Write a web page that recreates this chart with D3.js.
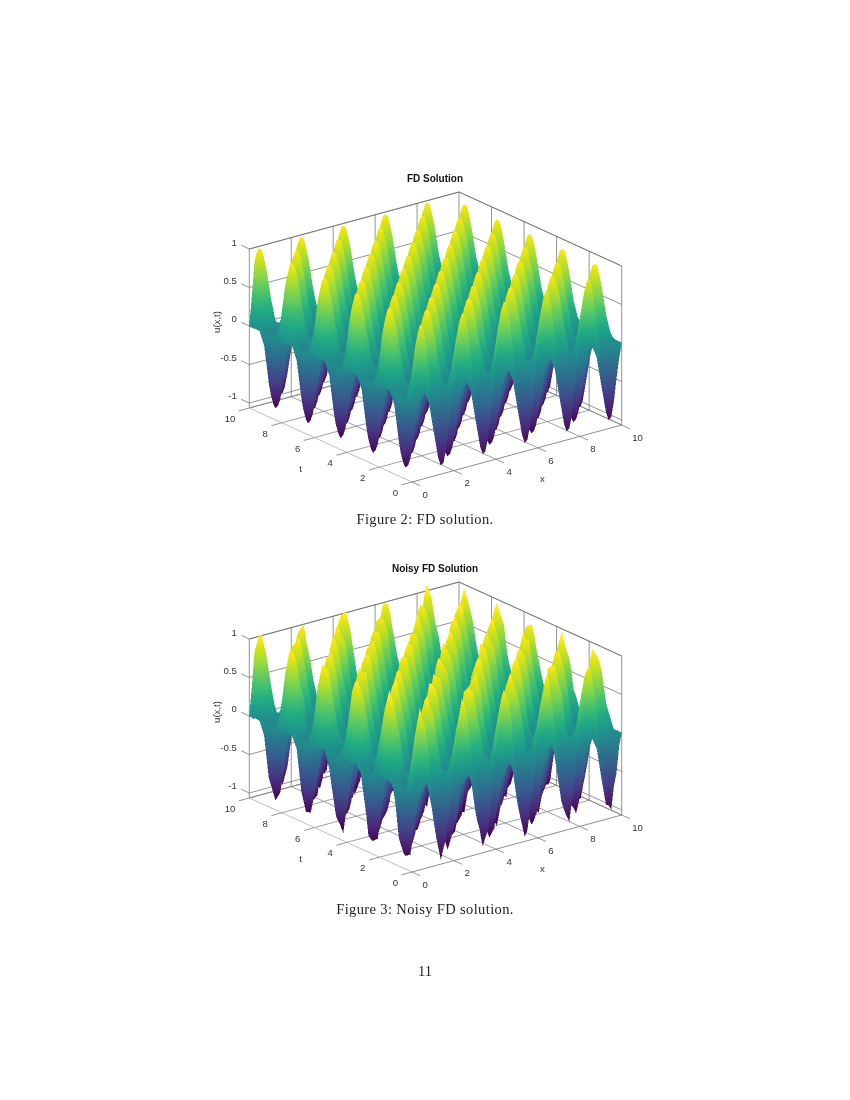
<!DOCTYPE html>
<html><head><meta charset="utf-8">
<script src="https://cdn.jsdelivr.net/npm/d3@7"></script>
<style>html,body{margin:0;padding:0;background:#fff}svg{display:block;filter:blur(0.4px)}</style>
</head><body><div id="c"></div>
<script>
// ---- values ----
const titles = ["FD Solution", "Noisy FD Solution"];
const captions = ["Figure 2: FD solution.", "Figure 3: Noisy FD solution."];
const pageNumber = "11";
const xTicks = [0,2,4,6,8,10];
const tTicks = [0,2,4,6,8,10];
const zTicks = [-1,-0.5,0,0.5,1];
const zTickLabels = ["-1","-0.5","0","0.5","1"];
const gridX = [0,.125,.25,.375,.5,.625,.75,.875,1,1.125,1.25,1.375,1.5,1.625,1.75,1.875,2,2.125,2.25,2.375,2.5,2.625,2.75,2.875,3,3.125,3.25,3.375,3.5,3.625,3.75,3.875,4,4.125,4.25,4.375,4.5,4.625,4.75,4.875,5,5.125,5.25,5.375,5.5,5.625,5.75,5.875,6,6.125,6.25,6.375,6.5,6.625,6.75,6.875,7,7.125,7.25,7.375,7.5,7.625,7.75,7.875,8,8.125,8.25,8.375,8.5,8.625,8.75,8.875,9,9.125,9.25,9.375,9.5,9.625,9.75,9.875,10];
const gridT = gridX.slice();
// spatial profile of the wave along x
const profileX = [0,.40,.85,
 .99,.96,.78,.48,.11,-.28,-.63,-.88,-.99,-.96,-.78,-.48,-.11,.28,.63,.88,
 .99,.96,.78,.48,.11,-.28,-.63,-.88,-.99,-.96,-.78,-.48,-.11,.28,.63,.88,
 .99,.96,.78,.48,.11,-.28,-.63,-.88,-.99,-.96,-.78,-.48,-.11,.28,.63,.88,
 .99,.96,.78,.48,.11,-.28,-.63,-.88,-.99,-.96,-.78,-.48,-.11,.28,.63,.88,
 .99,.96,.78,.48,.11,-.28,-.63,-.88,-.99,-.96,-.76,-.46,-.20,0];
// temporal profile of the wave along t
const profileT = [.96,.79,.48,.08,-.33,-.68,-.91,-1,-.96,-.79,-.48,-.08,.33,.68,.91,1,.96,.79,.48,.08,-.33,-.68,-.91,-1,-.96,-.79,-.48,-.08,.33,.68,.91,1,.96,.79,.48,.08,-.33,-.68,-.91,-1,-.96,-.79,-.48,-.08,.33,.68,.91,1,.96,.79,.48,.08,-.33,-.68,-.91,-1,-.96,-.79,-.48,-.08,.33,.68,.91,1,.96,.79,.48,.08,-.33,-.68,-.91,-1,-.96,-.79,-.48,-.08,.33,.68,.91,1,.96];
// roughness seen on the noisy surface, estimated per x row and per t row
const roughX = [0,.03,-.02,.04,-.03,.01,.05,-.04,.02,-.01,.03,-.05,.04,.00,-.03,.02,.05,-.02,-.04,.03,.01,-.05,.04,-.01,.02,-.03,.05,-.04,.00,.03,-.02,.04,-.05,.01,.03,-.03,.02,.05,-.01,-.04,.03,-.02,.04,.00,-.05,.02,.03,-.04,.05,-.01,-.03,.04,.01,-.02,-.05,.03,.02,-.04,.05,.00,-.03,.04,-.01,.02,-.05,.03,-.02,.04,.01,-.04,.05,-.03,.00,.02,-.01,.04,-.05,.03,-.02,.01,0];
const roughT = [.02,-.03,.04,.00,-.05,.03,.01,-.02,.05,-.04,.02,.03,-.01,-.05,.04,.01,-.03,.02,.05,-.02,-.04,.03,.00,.04,-.05,.01,.03,-.03,.02,-.01,.05,-.04,.03,.00,-.02,.04,-.05,.02,.01,-.03,.05,-.01,-.04,.03,.02,-.05,.04,.00,-.02,.03,.05,-.04,.01,-.03,.02,.04,-.05,.00,.03,-.02,.05,-.01,-.04,.02,.03,-.05,.04,.01,-.03,.00,.05,-.02,.03,-.04,.01,.02,-.05,.04,-.01,.03,-.02];
const roughTile = [
 [.03,-.04,.01,.05,-.02,-.05,.04,.00,-.03,.02,.05],
 [-.05,.02,.04,-.01,.03,.01,-.04,.05,-.02,-.03,.00],
 [.01,.05,-.03,.02,-.05,.04,.00,-.02,.03,-.04,.05],
 [.04,-.02,.00,-.05,.05,-.03,.02,.01,-.04,.03,-.01],
 [-.03,.00,.05,.03,-.04,.02,-.05,.04,.01,-.01,.02],
 [.02,.04,-.05,-.02,.01,.05,-.03,-.04,.03,.00,-.01],
 [-.01,-.03,.02,.04,.00,-.04,.05,.03,-.05,.01,.03]
];
const tableFD = gridX.map((_,i)=>gridT.map((_,j)=>profileX[i]*profileT[j]));
const tableNoisy = gridX.map((_,i)=>gridT.map((_,j)=>{
  const edge = (i===0||i===gridX.length-1) ? 0.15 : 1;
  return tableFD[i][j] + edge*(0.6*roughX[i]+0.6*roughT[j]+1.2*roughTile[i%7][j%11]);
}));

// ---- projection, built from linear scales ----
const W=850,H=1100;
const svg=d3.select("#c").append("svg").attr("width",W).attr("height",H).attr("viewBox",[0,0,W,H]);
const xH=d3.scaleLinear([0,10],[412,621.7]), xV=d3.scaleLinear([0,10],[482,425]);
const tH=d3.scaleLinear([0,10],[0,-162.7]), tV=d3.scaleLinear([0,10],[0,-74]);
const zV=d3.scaleLinear([-1.065,1],[0,-159]);
const color=d3.scaleSequential(d3.interpolateViridis).domain([-1,1]).clamp(true);
const lutSize=512;
const lut=d3.range(lutSize).map(k=>{const c=d3.rgb(color(-1+2*k/(lutSize-1)));return [c.r,c.g,c.b];});
const P=(x,t,z)=>[xH(x)+tH(t), xV(x)+tV(t)+zV(z)];
const line=d3.line();
const ZB=-1.065, ZT=1, sans="'Liberation Sans',Arial,sans-serif";

// paints the surface far to near, each pixel coloured by its own height
function paintSurface(table){
  const SS=2, bx=235, by=180, bw=400, bh=310;
  const cv=document.createElement("canvas"); cv.width=bw*SS; cv.height=bh*SS;
  const ctx=cv.getContext("2d"), img=ctx.createImageData(cv.width,cv.height), buf=img.data;
  const tri=(a,b,c)=>{
    const ax=(a.p[0]-bx)*SS, ay=(a.p[1]-by)*SS, bxx=(b.p[0]-bx)*SS, byy=(b.p[1]-by)*SS, cx=(c.p[0]-bx)*SS, cy=(c.p[1]-by)*SS;
    const den=(byy-cy)*(ax-cx)+(cx-bxx)*(ay-cy);
    if(Math.abs(den)<1e-9) return;
    const x0=Math.max(0,Math.floor(Math.min(ax,bxx,cx))), x1=Math.min(cv.width-1,Math.ceil(Math.max(ax,bxx,cx)));
    const y0=Math.max(0,Math.floor(Math.min(ay,byy,cy))), y1=Math.min(cv.height-1,Math.ceil(Math.max(ay,byy,cy)));
    for(let y=y0;y<=y1;y++)for(let x=x0;x<=x1;x++){
      const px=x+.5, py=y+.5;
      const w0=((byy-cy)*(px-cx)+(cx-bxx)*(py-cy))/den, w1=((cy-ay)*(px-cx)+(ax-cx)*(py-cy))/den, w2=1-w0-w1;
      if(w0<-.02||w1<-.02||w2<-.02) continue;
      const z=w0*a.z+w1*b.z+w2*c.z;
      const k=Math.max(0,Math.min(lutSize-1,Math.round((z+1)/2*(lutSize-1))));
      const o=(y*cv.width+x)*4, col=lut[k];
      buf[o]=col[0];buf[o+1]=col[1];buf[o+2]=col[2];buf[o+3]=255;
    }
  };
  const V=(a,b)=>({p:P(gridX[a],gridT[b],table[a][b]),z:table[a][b]});
  for(let i=gridX.length-2;i>=0;i--)for(let j=gridT.length-2;j>=0;j--){
    const q00=V(i,j),q10=V(i+1,j),q11=V(i+1,j+1),q01=V(i,j+1);
    tri(q11,q10,q01); tri(q10,q00,q01);
  }
  ctx.putImageData(img,0,0);
  return {href:cv.toDataURL("image/png"),x:bx,y:by,w:bw,h:bh};
}

function panel(idx,dy,table){
  const g=svg.append("g").attr("transform",`translate(0,${dy})`);
  const seg=(cls,data,stroke,width)=>g.append("g").attr("class",cls).attr("fill","none").attr("stroke",stroke).attr("stroke-width",width)
    .selectAll("path").data(data).join("path").attr("d",d=>line(d));
  // walls
  const wall=[];
  xTicks.forEach(x=>wall.push([P(x,10,ZB),P(x,10,ZT)]));
  tTicks.forEach(t=>{ if(t<10) wall.push([P(10,t,ZB),P(10,t,ZT)]); });
  zTicks.forEach(z=>{ wall.push([P(0,10,z),P(10,10,z)]); wall.push([P(10,10,z),P(10,0,z)]); });
  wall.push([P(0,10,ZT),P(10,10,ZT)],[P(10,10,ZT),P(10,0,ZT)],[P(0,10,ZB),P(10,10,ZB)],[P(10,10,ZB),P(10,0,ZB)]);
  seg("walls",wall,"#707070",0.75);
  // floor grid
  const floor=[];
  xTicks.forEach(x=>{ if(x>0) floor.push([P(x,0,ZB),P(x,10,ZB)]); });
  tTicks.forEach(t=>{ if(t>0) floor.push([P(0,t,ZB),P(10,t,ZB)]); });
  seg("floor",floor,"#808080",0.75);
  seg("tAxis",[[P(0,0,ZB),P(0,10,ZB)]],"#b8b8b8",0.9);
  seg("xAxis",[[P(0,0,ZB),P(10,0,ZB)]],"#808080",0.9);
  // outward ticks
  const ticks=[];
  xTicks.forEach(x=>ticks.push([P(x,0,ZB),P(x,-0.5,ZB)]));
  tTicks.forEach(t=>ticks.push([P(0,t,ZB),P(-0.5,t,ZB)]));
  zTicks.forEach(z=>ticks.push([P(0,10,z),P(0,10.5,z)]));
  seg("ticks",ticks,"#707070",0.75);

  const s=paintSurface(table);
  g.append("image").attr("class","surface").attr("href",s.href).attr("x",s.x).attr("y",s.y).attr("width",s.w).attr("height",s.h);

  // text
  const text=(sel)=>sel.attr("font-family",sans).attr("font-size",9.6).attr("fill","#333");
  const lab=g.append("g");
  text(lab.selectAll("text.x").data(xTicks).join("text").attr("class","x")
    .attr("x",d=>P(d,0,ZB)[0]+10.5).attr("y",d=>P(d,0,ZB)[1]+15.8).text(d=>d));
  text(lab.selectAll("text.t").data(tTicks).join("text").attr("class","t").attr("text-anchor","end")
    .attr("x",d=>P(0,d,ZB)[0]-14).attr("y",d=>P(0,d,ZB)[1]+14).text(d=>d));
  text(lab.selectAll("text.z").data(zTicks).join("text").attr("class","z").attr("text-anchor","end")
    .attr("x",d=>P(0,10,d)[0]-12.5).attr("y",d=>P(0,10,d)[1]-3.5).text((d,i)=>zTickLabels[i]));
  text(lab.append("text").attr("x",542.3).attr("y",482).attr("text-anchor","middle").text("x"));
  text(lab.append("text").attr("x",300.7).attr("y",471.5).attr("text-anchor","middle").text("t"));
  text(lab.append("text").attr("transform","translate(219.5,322) rotate(-90)").attr("text-anchor","middle").text("u(x,t)"));
  g.append("text").attr("x",435).attr("y",181.5).attr("text-anchor","middle").attr("font-family",sans)
    .attr("font-size",10).attr("font-weight","bold").attr("fill","#111").text(titles[idx]);
  g.append("text").attr("x",425).attr("y",523.5).attr("text-anchor","middle").attr("font-family","'Liberation Serif',serif")
    .attr("font-size",14.5).attr("letter-spacing",0.37).attr("fill","#222").text(captions[idx]);
}
panel(0,0,tableFD);
panel(1,390,tableNoisy);
svg.append("text").attr("x",425).attr("y",976).attr("text-anchor","middle").attr("font-family","'Liberation Serif',serif")
  .attr("font-size",14.5).attr("fill","#222").text(pageNumber);
</script></body></html>
